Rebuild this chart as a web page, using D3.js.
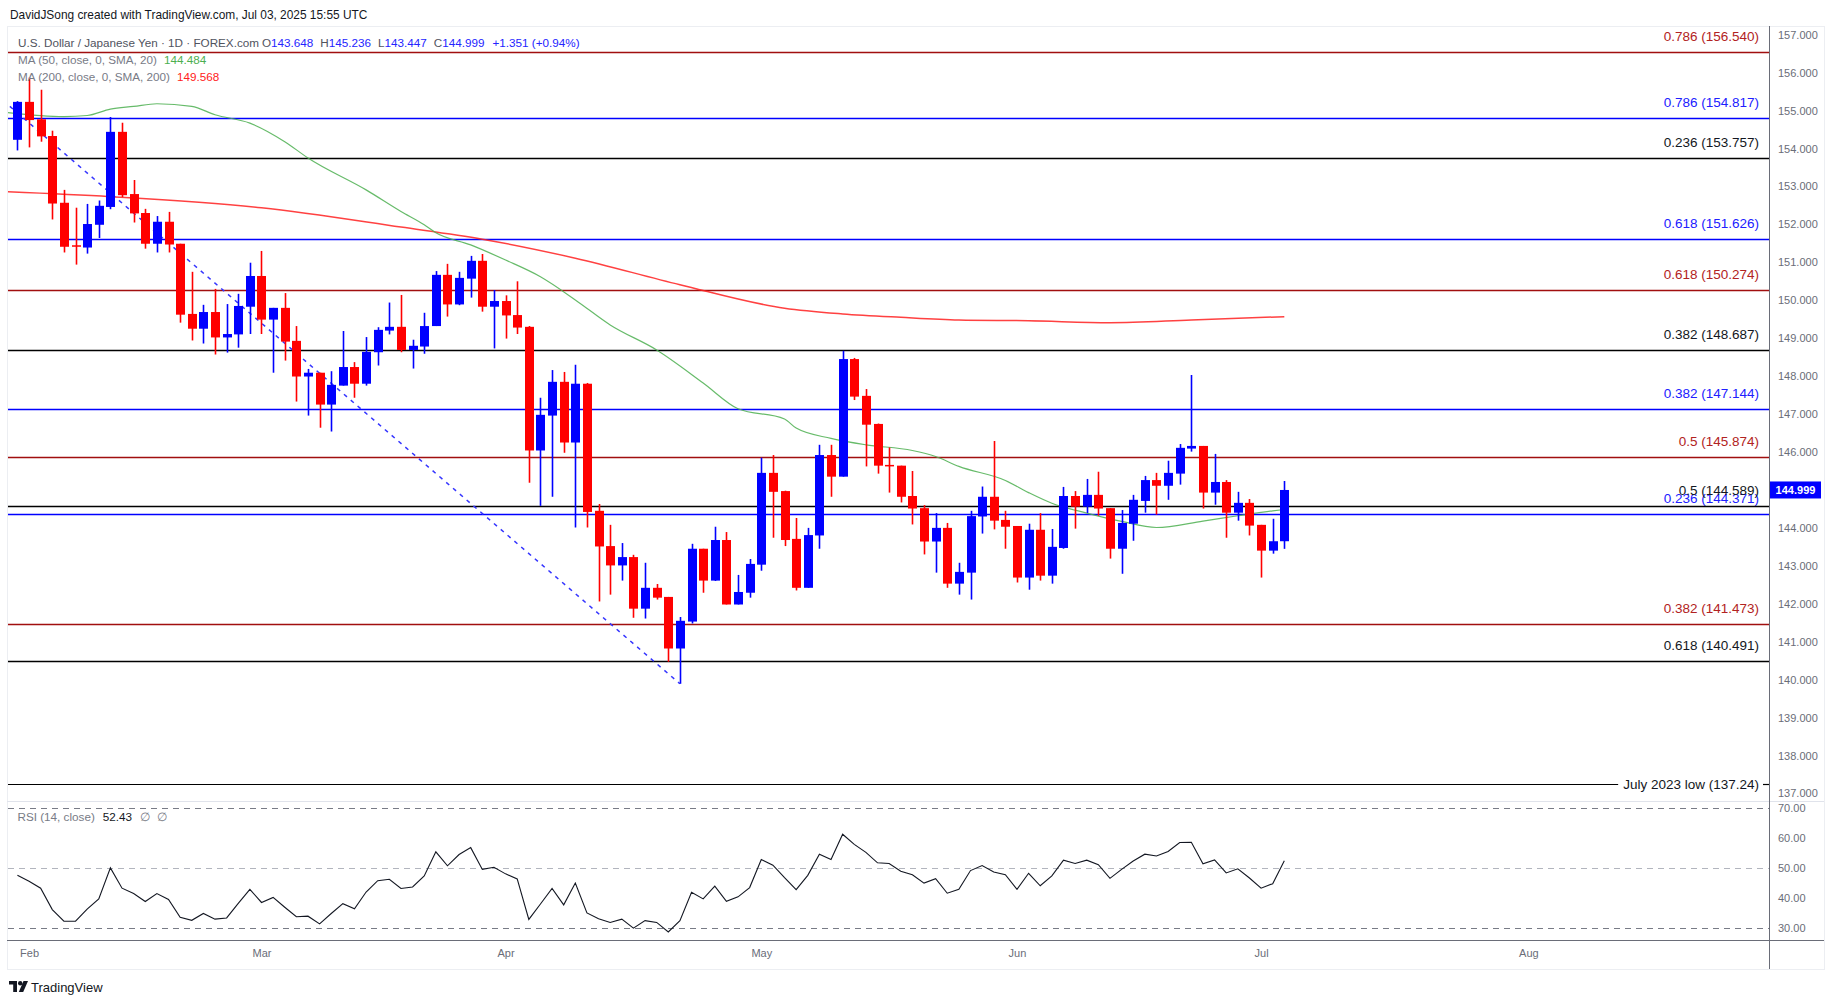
<!DOCTYPE html>
<html>
<head>
<meta charset="utf-8">
<script src="https://cdn.jsdelivr.net/npm/d3@7/dist/d3.min.js"></script>
<style>
  body { margin: 0; background: #ffffff; }
  svg text { font-family: "Liberation Sans", Arial, sans-serif; }
</style>
</head>
<body>
<div id="chart"></div>
<script>
// ---- data (USDJPY daily, FOREX.com) ----
const dates = [
  "2025-01-31",
  "2025-02-03","2025-02-04","2025-02-05","2025-02-06","2025-02-07","2025-02-10","2025-02-11","2025-02-12","2025-02-13","2025-02-14",
  "2025-02-17","2025-02-18","2025-02-19","2025-02-20","2025-02-21","2025-02-24","2025-02-25","2025-02-26","2025-02-27","2025-02-28",
  "2025-03-03","2025-03-04","2025-03-05","2025-03-06","2025-03-07","2025-03-10","2025-03-11","2025-03-12","2025-03-13","2025-03-14",
  "2025-03-17","2025-03-18","2025-03-19","2025-03-20","2025-03-21","2025-03-24","2025-03-25","2025-03-26","2025-03-27","2025-03-28","2025-03-31",
  "2025-04-01","2025-04-02","2025-04-03","2025-04-04","2025-04-07","2025-04-08","2025-04-09","2025-04-10","2025-04-11","2025-04-14","2025-04-15",
  "2025-04-16","2025-04-17","2025-04-18","2025-04-21","2025-04-22","2025-04-23","2025-04-24","2025-04-25","2025-04-28","2025-04-29","2025-04-30",
  "2025-05-01","2025-05-02","2025-05-05","2025-05-06","2025-05-07","2025-05-08","2025-05-09","2025-05-12","2025-05-13","2025-05-14","2025-05-15",
  "2025-05-16","2025-05-19","2025-05-20","2025-05-21","2025-05-22","2025-05-23","2025-05-26","2025-05-27","2025-05-28","2025-05-29","2025-05-30",
  "2025-06-02","2025-06-03","2025-06-04","2025-06-05","2025-06-06","2025-06-09","2025-06-10","2025-06-11","2025-06-12","2025-06-13",
  "2025-06-16","2025-06-17","2025-06-18","2025-06-19","2025-06-20","2025-06-23","2025-06-24","2025-06-25","2025-06-26","2025-06-27","2025-06-30",
  "2025-07-01","2025-07-02","2025-07-03"
];

const open = [
  154.23,155.23,154.77,154.33,152.57,151.45,151.39,151.99,152.46,154.44,152.80,152.30,151.49,152.07,151.49,149.64,149.25,149.69,149.02,149.10,
  149.83,150.64,149.49,149.80,148.93,147.99,148.09,147.25,147.75,148.24,147.80,148.63,149.20,149.30,148.69,148.78,149.32,150.67,149.89,150.57,
  151.04,149.83,149.98,149.61,149.30,146.04,146.96,147.85,146.25,147.80,144.45,143.52,143.01,143.23,141.87,142.42,142.18,140.82,141.53,143.45,
  142.61,143.68,141.98,142.29,143.03,145.45,144.97,143.71,142.42,143.80,145.92,145.35,148.45,147.48,146.74,145.66,145.64,144.84,144.52,143.64,
  144.00,142.53,142.82,144.30,144.82,144.21,144.05,142.69,143.95,142.74,143.47,144.84,144.56,144.87,144.52,143.45,144.11,144.71,145.26,145.11,
  145.43,146.09,146.16,144.93,145.21,144.40,144.66,144.08,143.40,143.648
];
const high = [
  155.25,155.87,155.55,154.47,152.91,152.44,152.54,152.63,154.83,154.68,153.17,152.41,152.22,152.33,151.49,150.75,149.88,150.30,149.90,150.17,
  150.99,151.30,149.80,150.19,149.32,148.19,148.09,148.13,149.19,148.37,149.03,149.29,149.94,150.14,148.96,149.67,150.77,150.96,150.75,151.17,
  151.22,150.27,150.13,150.50,149.32,147.43,148.16,148.11,148.30,147.82,144.63,144.08,143.60,143.29,143.08,142.52,142.18,141.65,143.58,143.45,
  144.03,143.89,142.76,143.18,145.85,145.92,144.98,144.26,144.00,146.19,146.19,148.67,148.48,147.66,146.75,146.12,145.64,145.50,144.60,144.39,
  144.13,143.08,144.45,145.09,146.29,144.45,144.05,144.11,144.39,143.97,145.08,144.97,145.29,145.48,144.52,144.47,144.87,145.37,145.45,145.77,
  146.21,148.03,146.16,145.95,145.26,144.95,144.76,144.08,144.24,145.236
];
const low = [
  153.95,154.03,154.18,152.13,151.26,150.94,151.23,151.64,152.40,152.72,152.05,151.36,151.26,151.26,149.41,148.94,148.86,148.57,148.62,148.75,
  149.11,149.11,148.09,148.41,147.33,146.96,146.64,146.54,147.75,147.43,147.75,148.28,149.10,148.63,148.20,148.59,149.32,149.57,149.87,150.07,
  149.70,148.73,148.99,149.11,145.19,144.58,144.82,145.98,144.01,144.01,142.06,142.24,142.61,141.63,141.61,142.11,140.47,139.89,141.48,142.29,
  142.60,141.98,141.98,142.16,142.87,143.74,143.52,142.35,142.42,143.45,144.82,145.35,147.37,145.62,145.43,144.93,144.67,144.09,143.30,142.82,
  142.42,142.24,142.11,143.85,143.96,143.45,142.56,142.37,142.61,142.53,143.45,143.98,144.39,144.32,143.19,142.79,143.66,144.40,144.35,144.74,
  145.14,146.01,144.51,144.61,143.74,144.19,143.80,142.69,143.32,143.447
];
const close = [
  155.23,154.75,154.32,152.55,151.41,151.42,152.01,152.49,154.44,152.77,152.29,151.49,152.07,151.47,149.62,149.25,149.69,149.02,149.11,149.85,
  150.64,149.49,149.80,148.91,147.99,148.09,147.25,147.77,148.24,147.80,148.64,149.22,149.30,148.69,148.80,149.32,150.67,149.89,150.59,151.04,
  149.83,149.98,149.60,149.28,146.04,146.98,147.85,146.25,147.80,144.42,143.51,143.01,143.23,141.87,142.42,142.16,140.82,141.55,143.45,142.61,
  143.68,141.98,142.31,143.05,145.45,144.95,143.68,142.42,143.81,145.92,145.35,148.45,147.46,146.72,145.64,145.62,144.82,144.51,143.64,144.00,
  142.53,142.84,144.31,144.82,144.19,144.03,142.69,143.95,142.74,143.50,144.84,144.56,144.87,144.51,143.45,144.13,144.74,145.26,145.11,145.45,
  146.11,146.16,144.93,145.21,144.40,144.66,144.06,143.40,143.648,144.999
];

// moving averages, read at a few bars (bar = index into dates)
const ma50Bar = [-1,4,6,8,10,12,15,17,20,23,25,30,33,35,36,39,42,45,48,51,55,59,62,66,67,70,73,77,79,81,85,87,89,92,95,98,102,105,108,109];
const ma50 = [154.95,154.84,154.87,155.04,155.11,155.18,155.11,154.89,154.67,154.18,153.75,152.91,152.34,151.99,151.78,151.46,151.06,150.62,150.01,149.35,
  148.69,147.82,147.14,146.87,146.63,146.36,146.19,146.04,145.88,145.62,145.25,144.93,144.65,144.39,144.17,144.01,144.18,144.32,144.45,144.484];
const ma200Bar = [-1,8,21,33,40,48,57,66,71,76,81,87,94,101,109];
const ma200 = [152.86,152.73,152.44,151.93,151.61,151.11,150.41,149.79,149.64,149.55,149.48,149.46,149.41,149.48,149.568];

// RSI(14)
const rsi = [
  47.5,45.5,43.2,36.0,32.1,32.1,36.2,39.6,50.0,43.2,41.4,38.7,41.4,39.4,33.4,32.4,34.7,32.8,33.2,38.1,
  42.8,38.4,40.1,36.8,33.6,33.8,31.2,34.7,38.0,36.3,41.9,45.7,46.2,43.1,43.6,47.3,55.4,50.7,54.5,56.8,
  49.5,50.2,48.0,46.3,32.7,37.9,43.1,37.6,44.9,34.9,32.9,31.7,32.8,29.8,32.3,31.7,28.5,32.3,41.8,39.6,
  43.9,38.8,40.3,43.4,52.8,50.9,46.7,42.7,47.5,54.6,52.8,61.3,57.9,55.2,51.7,51.5,48.9,47.7,44.9,46.4,
  41.5,42.8,49.1,50.8,48.6,47.7,42.8,48.2,44.0,47.3,52.6,51.5,52.6,51.1,46.5,49.5,52.3,54.6,54.0,55.5,
  58.5,58.6,51.4,52.7,48.3,49.7,46.6,43.2,44.7,52.43
];

// fibonacci levels, three drawings
const fibRatio = ["0.786","0.618","0.5","0.382", "0.786","0.618","0.382","0.236", "0.236","0.382","0.5","0.618"];
const fibPrice = [156.540,150.274,145.874,141.473, 154.817,151.626,147.144,144.371, 153.757,148.687,144.589,140.491];
const fibSet   = ["red","red","red","red", "blue","blue","blue","blue", "black","black","black","black"];

const lowLabel = "July 2023 low";
const lowPrice = 137.24;

// dashed trend line, bar / price of its two ends
const trendBar = [-0.65, 57];
const trendPrice = [155.11, 139.89];

const priceTicks = [137,138,139,140,141,142,143,144,145,146,147,148,149,150,151,152,153,154,155,156,157];
const rsiTicks = [30,40,50,60,70];
const rsiBands = [70,50,30];
const monthLabels = ["Feb","Mar","Apr","May","Jun","Jul","Aug"];
const monthBar = [1,21,42,64,86,107,130];

// ---- layout ----
const W = 1835, H = 1004;
const pane = {left: 8, right: 1769, top: 26, bottom: 801};
const rsiPane = {top: 801, bottom: 940};
const frame = {left: 7, right: 1824, top: 26, bottom: 969};

const fibStyle = {
  red:   {line: "#a10f0f", text: "#b22222"},
  blue:  {line: "#0000ff", text: "#2020ff"},
  black: {line: "#000000", text: "#131722"}
};
const upColor = "#0000ff", downColor = "#ff0000";
const gray = "#6a6d78";

const svg = d3.select("#chart").append("svg")
  .attr("width", W)
  .attr("height", H)
  .style("display", "block");

svg.append("rect").attr("width", W).attr("height", H).attr("fill", "#ffffff");

const x = d3.scaleLinear().domain([-0.81, 150.7]).range([pane.left, pane.right]);
const y = d3.scaleLinear().domain([136.8, 157.23]).range([pane.bottom, pane.top]);
const yr = d3.scaleLinear().domain([30, 70]).range([927.5, 808.3]);

const defs = svg.append("defs");
defs.append("clipPath").attr("id", "clipPrice").append("rect")
  .attr("x", pane.left).attr("y", pane.top)
  .attr("width", pane.right - pane.left).attr("height", pane.bottom - pane.top);
defs.append("clipPath").attr("id", "clipRsi").append("rect")
  .attr("x", pane.left).attr("y", rsiPane.top)
  .attr("width", pane.right - pane.left).attr("height", rsiPane.bottom - rsiPane.top);

// frame
svg.append("rect")
  .attr("x", frame.left + 0.5).attr("y", frame.top + 0.5)
  .attr("width", frame.right - frame.left).attr("height", frame.bottom - frame.top)
  .attr("fill", "none").attr("stroke", "#eceef2");

// header
svg.append("text")
  .attr("x", 10).attr("y", 19)
  .style("font-size", "11.9px").attr("fill", "#131722")
  .text("DavidJSong created with TradingView.com, Jul 03, 2025 15:55 UTC");

const gPrice = svg.append("g").attr("clip-path", "url(#clipPrice)");

// fib lines + labels
const fibG = gPrice.selectAll(".fib")
  .data(fibPrice.map((p, i) => ({p: p, r: fibRatio[i], s: fibSet[i]})))
  .enter().append("g").attr("class", "fib");

fibG.append("line")
  .attr("x1", pane.left).attr("x2", pane.right)
  .attr("y1", d => Math.round(y(d.p)) + 0.5).attr("y2", d => Math.round(y(d.p)) + 0.5)
  .attr("stroke", d => fibStyle[d.s].line).attr("stroke-width", 1.3);

fibG.append("text")
  .attr("x", pane.right - 10)
  .attr("y", d => y(d.p) - 11)
  .attr("text-anchor", "end")
  .style("font-size", "13.5px")
  .attr("fill", d => fibStyle[d.s].text)
  .text(d => `${d.r} (${d.p.toFixed(3)})`);

// July 2023 low line with label in it
const lowY = Math.round(y(lowPrice)) + 0.5;
const lowText = gPrice.append("text")
  .attr("x", pane.right - 10).attr("y", lowY + 4.5)
  .attr("text-anchor", "end")
  .style("font-size", "13.5px").attr("fill", "#131722")
  .text(`${lowLabel} (${lowPrice.toFixed(2)})`);
const lowBox = lowText.node().getBBox();
gPrice.append("line")
  .attr("x1", pane.left).attr("x2", lowBox.x - 5)
  .attr("y1", lowY).attr("y2", lowY)
  .attr("stroke", "#000").attr("stroke-width", 1.2);
gPrice.append("line")
  .attr("x1", pane.right - 6).attr("x2", pane.right)
  .attr("y1", lowY).attr("y2", lowY)
  .attr("stroke", "#000").attr("stroke-width", 1.2);

// moving averages
const maLine = d3.line()
  .x(d => x(d[0]))
  .y(d => y(d[1]))
  .curve(d3.curveMonotoneX);

gPrice.append("path")
  .datum(ma200Bar.map((b, i) => [b, ma200[i]]))
  .attr("fill", "none")
  .attr("stroke", "#ff2020").attr("stroke-opacity", 0.85).attr("stroke-width", 1.5)
  .attr("d", maLine);

gPrice.append("path")
  .datum(ma50Bar.map((b, i) => [b, ma50[i]]))
  .attr("fill", "none")
  .attr("stroke", "#4caf50").attr("stroke-opacity", 0.85).attr("stroke-width", 1.2)
  .attr("d", maLine);

// trend line
gPrice.append("line")
  .attr("x1", x(trendBar[0])).attr("y1", y(trendPrice[0]))
  .attr("x2", x(trendBar[1])).attr("y2", y(trendPrice[1]))
  .attr("stroke", "#3535ff").attr("stroke-width", 1.5)
  .attr("stroke-dasharray", "4,5");

// candles
const step = x(1) - x(0);
const bodyW = Math.round(step * 0.75);
const candles = gPrice.selectAll(".candle")
  .data(dates.map((d, i) => ({i: i, o: open[i], h: high[i], l: low[i], c: close[i]})))
  .enter().append("g").attr("class", "candle");

candles.append("line")
  .attr("x1", d => Math.round(x(d.i)) + 0.5).attr("x2", d => Math.round(x(d.i)) + 0.5)
  .attr("y1", d => y(d.h)).attr("y2", d => y(d.l))
  .attr("stroke", d => d.c >= d.o ? upColor : downColor)
  .attr("stroke-width", 1.6);

candles.append("rect")
  .attr("x", d => Math.round(x(d.i)) + 0.5 - bodyW / 2)
  .attr("width", bodyW)
  .attr("y", d => y(Math.max(d.o, d.c)))
  .attr("height", d => Math.max(1.5, Math.abs(y(d.o) - y(d.c))))
  .attr("fill", d => d.c >= d.o ? upColor : downColor);

// legend
const last = dates.length - 1;
const chg = close[last] - close[last - 1];
const legend = svg.append("text")
  .attr("x", 18).attr("y", 47)
  .style("font-size", "11.7px");
legend.append("tspan").attr("fill", "#50535e").text("U.S. Dollar / Japanese Yen · 1D · FOREX.com");
[["O", open[last]], ["H", high[last]], ["L", low[last]], ["C", close[last]]].forEach((p, k) => {
  legend.append("tspan").attr("dx", k === 0 ? 3 : 7).attr("fill", "#50535e").text(p[0]);
  legend.append("tspan").attr("fill", "#2424ff").text(p[1].toFixed(3));
});
legend.append("tspan").attr("dx", 8).attr("fill", "#2424ff")
  .text(`${chg >= 0 ? "+" : ""}${chg.toFixed(3)} (${chg >= 0 ? "+" : ""}${(chg / close[last - 1] * 100).toFixed(2)}%)`);

const ma50Legend = svg.append("text").attr("x", 18).attr("y", 63.5).style("font-size", "11.7px");
ma50Legend.append("tspan").attr("fill", "#787b86").text("MA (50, close, 0, SMA, 20)");
ma50Legend.append("tspan").attr("dx", 7).attr("fill", "#4caf50").text(ma50[ma50.length - 1].toFixed(3));

const ma200Legend = svg.append("text").attr("x", 18).attr("y", 80.5).style("font-size", "11.7px");
ma200Legend.append("tspan").attr("fill", "#787b86").text("MA (200, close, 0, SMA, 200)");
ma200Legend.append("tspan").attr("dx", 7).attr("fill", "#ff2020").text(ma200[ma200.length - 1].toFixed(3));

// price axis
const priceAxis = svg.append("g")
  .attr("transform", `translate(${pane.right},0)`)
  .call(d3.axisRight(y).tickValues(priceTicks).tickSize(0).tickPadding(9).tickFormat(d3.format(".3f")));
priceAxis.select(".domain").remove();
priceAxis.selectAll("text").attr("fill", gray).style("font-size", "11px").style("font-family", "Liberation Sans, Arial, sans-serif");

// last price badge
const badge = svg.append("g").attr("transform", `translate(${pane.right + 1},${y(close[last])})`);
badge.append("rect").attr("x", 0).attr("y", -8.5).attr("width", 51).attr("height", 17).attr("fill", "#0000ff");
badge.append("text").attr("x", 25.5).attr("y", 4)
  .attr("text-anchor", "middle").style("font-size", "11px").style("font-weight", "bold")
  .attr("fill", "#ffffff").text(close[last].toFixed(3));

// ---- RSI pane ----
svg.append("line")
  .attr("x1", frame.left).attr("x2", frame.right)
  .attr("y1", rsiPane.top + 0.5).attr("y2", rsiPane.top + 0.5)
  .attr("stroke", "#e0e3eb");

const gRsi = svg.append("g").attr("clip-path", "url(#clipRsi)");
gRsi.selectAll(".band")
  .data(rsiBands)
  .enter().append("line")
  .attr("x1", pane.left).attr("x2", pane.right)
  .attr("y1", d => Math.round(yr(d)) + 0.5).attr("y2", d => Math.round(yr(d)) + 0.5)
  .attr("stroke", d => d === 50 ? "#b2b5be" : "#787b86")
  .attr("stroke-dasharray", "6,5");

gRsi.append("path")
  .datum(rsi)
  .attr("fill", "none")
  .attr("stroke", "#131722").attr("stroke-width", 1.1)
  .attr("d", d3.line().x((d, i) => x(i)).y(d => yr(d)));

const rsiLegend = svg.append("text").attr("x", 17.5).attr("y", 821).style("font-size", "11.7px");
rsiLegend.append("tspan").attr("fill", "#787b86").text("RSI (14, close)");
rsiLegend.append("tspan").attr("dx", 8).attr("fill", "#131722").text(rsi[last].toFixed(2));
rsiLegend.append("tspan").attr("dx", 8).attr("fill", "#787b86").text("∅");
rsiLegend.append("tspan").attr("dx", 7).attr("fill", "#787b86").text("∅");

const rsiAxis = svg.append("g")
  .attr("transform", `translate(${pane.right},0)`)
  .call(d3.axisRight(yr).tickValues(rsiTicks).tickSize(0).tickPadding(9).tickFormat(d3.format(".2f")));
rsiAxis.select(".domain").remove();
rsiAxis.selectAll("text").attr("fill", gray).style("font-size", "11px").style("font-family", "Liberation Sans, Arial, sans-serif");

// time axis
const timeAxis = svg.append("g")
  .attr("transform", `translate(0,${rsiPane.bottom})`)
  .call(d3.axisBottom(x).tickValues(monthBar).tickSize(0).tickPadding(9)
    .tickFormat((d, i) => monthLabels[i]));
timeAxis.select(".domain").remove();
timeAxis.selectAll("text").attr("fill", gray).style("font-size", "11px").style("font-family", "Liberation Sans, Arial, sans-serif");

svg.append("line")
  .attr("x1", frame.left).attr("x2", frame.right)
  .attr("y1", rsiPane.bottom + 0.5).attr("y2", rsiPane.bottom + 0.5)
  .attr("stroke", "#6a6d78");

// right axis border
svg.append("line")
  .attr("x1", pane.right + 0.5).attr("x2", pane.right + 0.5)
  .attr("y1", frame.top).attr("y2", frame.bottom)
  .attr("stroke", "#6a6d78");

// TradingView mark
const logo = svg.append("g").attr("transform", "translate(9,981)").attr("fill", "#131722");
logo.append("path").attr("d", "M0,0 H8 V11 H4.2 V3.6 H0 Z");
logo.append("circle").attr("cx", 11.2).attr("cy", 2.2).attr("r", 2.2);
logo.append("path").attr("d", "M14.5,0 H19 L14.2,11 H9.8 Z");
svg.append("text")
  .attr("x", 31).attr("y", 991.5)
  .style("font-size", "13px").attr("fill", "#131722")
  .text("TradingView");
</script>
</body>
</html>
